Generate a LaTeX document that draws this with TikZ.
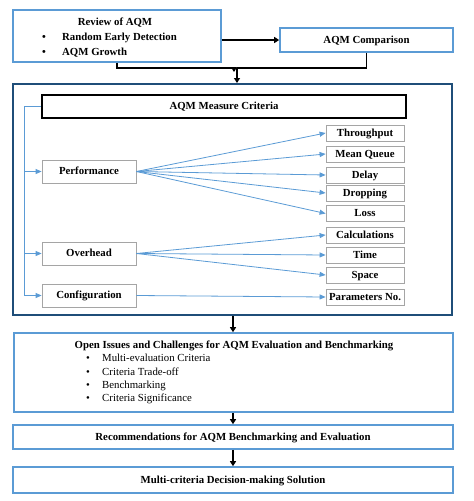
\documentclass[tikz,border=0pt]{standalone}
\usepackage{fontspec}
\setmainfont{Liberation Serif}
\usetikzlibrary{arrows.meta}
\definecolor{lblue}{HTML}{5B9BD5}
\definecolor{dblue}{HTML}{1F4E79}
\definecolor{gbord}{HTML}{A5A5A5}
\begin{document}
\begin{tikzpicture}[x=1pt,y=-1pt,
  font=\fontsize{10.8}{12}\selectfont\bfseries,
  every node/.style={text height=7.4pt, text depth=1.2pt},
  bbox/.style={draw=lblue, line width=1.6pt, inner sep=0pt},
  gbox/.style={draw=gbord, line width=0.8pt, inner sep=0pt, minimum width=94pt, minimum height=23pt},
  rbox/.style={draw=gbord, line width=0.8pt, inner sep=0pt, minimum width=78pt, minimum height=16pt},
  barrow/.style={line width=1.6pt, -{Triangle[length=5pt,width=6pt]}},
  bline/.style={line width=1.6pt},
  blarrow/.style={draw=lblue, line width=0.8pt, -{Triangle[length=6pt,width=5pt]}},
  bl/.style={draw=lblue, line width=0.8pt},
  plain/.style={font=\fontsize{10.8}{12}\selectfont}]
\useasboundingbox (0,0) rectangle (474,501);
% top
\node[bbox, minimum width=208pt, minimum height=52pt] (rev) at (117,36) {};
\node (revt) at (115,22) {Review of AQM};
\node (rb1) at (44,37) {\textbullet};
\node[anchor=west, inner sep=0pt] (rt1) at (62,37) {Random Early Detection};
\node (rb2) at (44,52) {\textbullet};
\node[anchor=west, inner sep=0pt] (rt2) at (62,52) {AQM Growth};
\node[bbox, minimum width=173pt, minimum height=24pt] (cmp) at (366.5,40) {AQM Comparison};
\draw[barrow] (rev.east |- cmp.west) -- (cmp.west);
\coordinate (j) at (237,68);
\coordinate (jl) at (234,68);
\draw[bline] (cmp.south) |- (j);
\draw[barrow] (rev.south) |- (jl) -- ++(0,4);
% big box
\node[draw=dblue, line width=2pt, minimum width=439pt, minimum height=231pt] (big) at (232.5,199.5) {};
\draw[barrow] (j) -- (big.north -| j);
\node[draw=black, line width=1.6pt, minimum width=364pt, minimum height=23pt] (meas) at (224,106.5) {AQM Measure Criteria};
\node[gbox] (perf) at (89,171.5) {Performance};
\node[gbox] (over) at (89,253.5) {Overhead};
\node[gbox] (conf) at (89,295.5) {Configuration};
\node[rbox] (tp) at (365,133) {Throughput};
\node[rbox] (mq) at (365,154) {Mean Queue};
\node[rbox] (dl) at (365,175) {Delay};
\node[rbox] (dr) at (365,193) {Dropping};
\node[rbox] (ls) at (365,213.5) {Loss};
\node[rbox] (ca) at (365,235) {Calculations};
\node[rbox] (tm) at (365,255) {Time};
\node[rbox] (sp) at (365,275) {Space};
\node[rbox] (pn) at (365,297) {Parameters No.};
\coordinate (lx) at (24,0);
\draw[bl] (meas.west) -- (meas.west -| lx) -- (conf.west -| lx);
\draw[blarrow] (perf.west -| lx) -- (perf.west);
\draw[blarrow] (over.west -| lx) -- (over.west);
\draw[blarrow] (conf.west -| lx) -- (conf.west);
\foreach \t in {tp,mq,dl,dr,ls} \draw[blarrow] (perf.east) -- (\t.west);
\foreach \t in {ca,tm,sp} \draw[blarrow] (over.east) -- (\t.west);
\draw[blarrow] (conf.east) -- (pn.west);
% bottom
\coordinate (k) at (233,0);
\node[bbox, minimum width=439pt, minimum height=79pt] (open) at (233.5,372.5) {};
\node (opent) at (234,345) {Open Issues and Challenges for AQM Evaluation and Benchmarking};
\foreach \y/\txt [count=\i] in {358/Multi-evaluation Criteria, 372/Criteria Trade-off, 385/Benchmarking, 398/Criteria Significance} {
  \node[plain] (ob\i) at (88,\y) {\textbullet};
  \node[plain, anchor=west, inner sep=0pt] (ot\i) at (102,\y) {\txt};
}
\node[bbox, minimum width=440pt, minimum height=24pt] (rec) at (233,437) {Recommendations for AQM Benchmarking and Evaluation};
\node[bbox, minimum width=440pt, minimum height=26pt] (mcd) at (233,480) {Multi-criteria Decision-making Solution};
\draw[barrow] (big.south -| k) -- (open.north -| k);
\draw[barrow] (open.south -| k) -- (rec.north -| k);
\draw[barrow] (rec.south -| k) -- (mcd.north -| k);
\end{tikzpicture}
\end{document}
